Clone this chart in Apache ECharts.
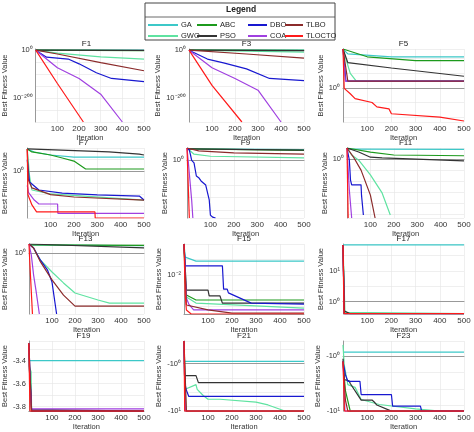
<!DOCTYPE html>
<html><head><meta charset="utf-8">
<script src="https://cdn.jsdelivr.net/npm/echarts@6/dist/echarts.min.js"></script>
<style>html,body{margin:0;padding:0;background:#fff}#c{width:474px;height:432px}</style>
</head><body><div id="c"></div>
<script>
const names = ['GA','GWO','ABC','PSO','DBO','COA','TLBO','TLOCTO'];
const colors = {GA:'#3cc8c8',GWO:'#5fe3a1',ABC:'#1c9a1c',PSO:'#333333',DBO:'#1818d0',COA:'#a040e0',TLBO:'#8b2b2b',TLOCTO:'#ff1a1a'};
const titles = ['F1','F3','F5','F7','F9','F11','F13','F15','F17','F19','F21','F23'];

// y values: exponent (log10) for log panels; log10(-f) for F21/F23; plain for F19
const F1 = {
 GA:[[0,0],[500,0]], ABC:[[0,0],[500,-2]], PSO:[[0,0],[500,-1]],
 GWO:[[0,0],[100,-12],[300,-28],[500,-37]], TLBO:[[0,0],[100,-16],[300,-52],[500,-86]],
 DBO:[[0,0],[50,-29],[150,-37],[200,-57],[280,-94],[350,-118],[500,-131]],
 COA:[[0,0],[100,-73],[200,-118],[300,-184],[400,-300]],
 TLOCTO:[[0,0],[100,-139],[220,-300]]};
const F3 = {
 GA:[[0,0],[500,0]], ABC:[[0,0],[500,-1]], PSO:[[0,0],[500,-2]],
 GWO:[[0,0],[500,-8]], TLBO:[[0,0],[250,-16],[500,-33]],
 DBO:[[0,0],[80,-37],[150,-53],[250,-78],[350,-118],[500,-127]],
 COA:[[0,0],[100,-73],[200,-118],[300,-167],[400,-300]],
 TLOCTO:[[0,0],[100,-147],[230,-300]]};
const F5 = {
 GA:[[0,8],[20,7],[200,6.4],[500,6.4]], ABC:[[0,8],[100,6.4],[300,5.6],[500,5.6]],
 PSO:[[0,8],[20,5.2],[200,4.1],[500,2.4]], GWO:[[0,8],[30,3],[55,1.4],[500,1.4]],
 TLBO:[[0,8],[20,1.4],[500,1.4]], DBO:[[0,8],[12,1.4],[500,1.4]], COA:[[0,8],[10,1.4],[500,1.4]],
 TLOCTO:[[0,8],[5,-0.1],[30,-1.2],[50,-2.2],[120,-3],[140,-3.9],[190,-4.3],[200,-5.3],[400,-6],[500,-6.8]]};
const F7 = {
 PSO:[[0,0.96],[350,0.83],[480,0.74],[500,0.7]], GA:[[0,0.96],[30,0.83],[100,0.7],[200,0.61],[500,0.61]],
 ABC:[[0,0.96],[20,0.83],[100,0.7],[150,0.57],[200,0.44],[250,0.1],[500,0.1]],
 GWO:[[0,0.96],[10,-0.2],[20,-0.8],[100,-0.97],[500,-1.23]],
 TLBO:[[0,0.96],[5,-0.37],[20,-0.71],[100,-1],[200,-1.1],[500,-1.23]],
 DBO:[[0,0.5],[10,-0.46],[50,-0.8],[150,-0.93],[300,-1.01],[480,-1.06],[500,-1.23]],
 COA:[[0,-0.6],[5,-0.9],[30,-1.23],[50,-1.4],[130,-1.4],[131,-1.8],[500,-1.8]],
 TLOCTO:[[0,0.96],[3,-1],[20,-1.44],[40,-1.74],[290,-1.74],[291,-2],[500,-2]]};
const F9 = {
 GA:[[0,2.8],[500,2.6]], ABC:[[0,2.8],[500,2.4]], PSO:[[0,2.8],[500,2.5]],
 TLBO:[[0,3],[50,2.3],[200,1.8],[500,1.5]], GWO:[[0,3],[30,1.5],[100,1],[500,0.6]],
 DBO:[[0,3],[10,2.5],[15,1.3],[20,0],[30,-0.6],[40,-3.8],[50,-4.2],[60,-5],[70,-5.5],[80,-6],[95,-9.6],[100,-13.3],[110,-13.8],[122,-14]],
 COA:[[0,3],[5,0],[20,-9.7],[25,-14]], TLOCTO:[[0,3],[10,-14]]};
const F11 = {
 GA:[[0,2.7],[500,2.6]], ABC:[[0,3],[100,1.9],[200,1.1],[500,0.9]],
 PSO:[[0,3],[50,1.9],[100,0.5],[150,0.3],[500,-0.5]],
 GWO:[[0,3],[20,1.1],[50,-0.3],[100,-4.3],[150,-9.2],[185,-15.2]],
 TLBO:[[0,3],[30,0.3],[60,-3],[100,-9.8],[120,-16]],
 DBO:[[0,3],[10,-0.3],[15,-5.7],[20,-7],[60,-7],[62,-9.8],[70,-15.2]],
 COA:[[0,3],[10,-8.4],[20,-16]], TLOCTO:[[0,3],[5,-16]]};
const F13 = {
 GA:[[0,1.8],[500,1.6]], ABC:[[0,1.8],[500,1.7]], PSO:[[0,2],[500,1.1]],
 GWO:[[0,2],[20,1.1],[50,-1.7],[100,-4.4],[150,-6.9],[200,-9.2],[300,-10.8],[350,-11.5],[500,-11.5]],
 TLBO:[[0,2],[20,1.1],[50,-2.1],[100,-6.2],[150,-9.7],[200,-12.2],[500,-12.2]],
 DBO:[[0,2],[20,1.1],[50,-1.7],[80,-3.9],[100,-6.7],[120,-14]],
 COA:[[0,2],[10,-0.5],[20,-5.1],[30,-8.5],[45,-14]], TLOCTO:[[0,2],[3,-1.7],[15,-14]]};
const F15 = {
 GA:[[0,-1],[5,-1.42],[50,-1.55],[500,-1.55]],
 DBO:[[0,-1],[5,-1.7],[160,-1.7],[165,-2.45],[180,-2.45],[185,-2.57],[280,-2.9],[500,-2.93]],
 ABC:[[0,-1],[5,-2.16],[10,-2.64],[50,-2.8],[500,-2.8]],
 PSO:[[0,-1],[10,-2.48],[100,-2.48],[105,-2.67],[150,-2.67],[160,-2.9],[500,-2.9]],
 GWO:[[0,-1],[10,-2.7],[50,-2.9],[500,-3.06]],
 COA:[[0,-1],[10,-2.74],[20,-2.93],[40,-3.12],[500,-3.12]],
 TLBO:[[0,-1],[10,-2.96],[100,-3.12],[200,-3.22],[500,-3.22]],
 TLOCTO:[[0,-1],[5,-2.64],[10,-3.12],[30,-3.25],[500,-3.25]]};
const F17 = {
 GA:[[0,1.84],[500,1.84]], GWO:[[0,1.84],[8,-0.35],[500,-0.39]], ABC:[[0,1.84],[6,-0.39],[500,-0.39]],
 PSO:[[0,1.84],[5,-0.3],[30,-0.39],[500,-0.39]], DBO:[[0,1.84],[5,-0.39],[500,-0.39]],
 COA:[[0,1.84],[5,-0.39],[500,-0.39]], TLBO:[[0,1.84],[6,-0.39],[500,-0.39]], TLOCTO:[[0,1.84],[4,-0.39],[500,-0.39]]};
const F19 = {
 GA:[[0,-3.4],[500,-3.4]], GWO:[[0,-3.25],[2,-3.45],[10,-3.5],[12,-3.84],[500,-3.84]],
 ABC:[[0,-3.25],[2,-3.45],[12,-3.84],[500,-3.84]], PSO:[[0,-3.25],[3,-3.5],[12,-3.83],[100,-3.83],[101,-3.84],[500,-3.84]],
 DBO:[[0,-3.25],[12,-3.84],[500,-3.84]], COA:[[0,-3.25],[2,-3.45],[12,-3.82],[500,-3.82]],
 TLBO:[[0,-3.25],[12,-3.84],[500,-3.84]], TLOCTO:[[0,-3.25],[5,-3.84],[500,-3.84]]};
const F21 = {
 GA:[[0,-0.05],[500,-0.05]],
 PSO:[[0,-0.48],[2,0.25],[50,0.25],[60,0.4],[500,0.4]],
 DBO:[[0,-0.48],[3,0.4],[10,0.56],[20,0.69],[500,0.69]],
 GWO:[[0,-0.48],[5,0.54],[50,0.44],[55,0.54],[80,0.67],[100,0.75],[150,0.75],[300,0.81],[350,0.87],[400,0.96],[420,1],[500,1]],
 ABC:[[0,-0.48],[8,1],[500,1]], COA:[[0,-0.48],[6,1],[500,1]], TLBO:[[0,-0.48],[10,1],[500,1]], TLOCTO:[[0,-0.48],[3,1],[500,1]]};
const F23 = {
 GA:[[0,-0.07],[500,-0.07]],
 PSO:[[0,0.05],[5,0.43],[25,0.45],[30,0.5],[75,0.8],[120,0.8],[130,0.84],[140,0.89],[200,1],[500,1]],
 DBO:[[0,0.1],[10,0.34],[20,0.46],[70,0.46],[75,0.7],[200,0.7],[205,0.91],[320,0.91],[325,1],[500,1]],
 GWO:[[0,-0.2],[5,0.16],[20,0.52],[50,0.57],[75,0.79],[150,0.88],[300,0.96],[400,1],[500,1]],
 ABC:[[0,0.1],[10,0.63],[30,1],[500,1]], TLBO:[[0,0.1],[10,0.8],[20,1],[500,1]],
 COA:[[0,0.1],[8,1],[500,1]], TLOCTO:[[0,0.1],[6,1],[500,1]]};
const panelData = [F1,F3,F5,F7,F9,F11,F13,F15,F17,F19,F21,F23];

// axis ranges and labelled ticks per panel
const yMin = [-300,-300,-7,-2,-14,-16,-14,-3.25,-0.4,-3.84,-0.48,-0.27];
const yMax = [5,5,8,1,3,3,2,-1,1.87,-3.23,1,1];
const yLabels = [[0,-200],[0,-200],[0],[0],[0,-10],[0,-10],[0,-10],[-2],[0,1],[-3.4,-3.6,-3.8],[0,1],[0,1]];
const yKind = ['log','log','log','log','log','log','log','log','log','lin','neg','neg'];

// layout
const rowTop = [49,148,244,341], rowH = [73,70,70,71];
const colLeft = [[29,189,343],[23,187,347],[27,184,343],[23,184,343]];
const colRight = [144,304,464];
const nameX = [7,170,329];

const sup = {'0':'⁰','1':'¹','2':'²','-':'⁻'};
function supStr(n){return String(n).split('').map(c=>sup[c]||c).join('');}

const grid=[],xAxis=[],yAxis=[],series=[],title=[];
panelData.forEach((P,i)=>{
  const r=Math.floor(i/3), c=i%3;
  const L=colLeft[r][c], W=colRight[c]-L;
  grid.push({left:L,top:rowTop[r],width:W,height:rowH[r]});
  title.push({text:titles[i],left:L+W/2,top:rowTop[r]-9,textAlign:'center',padding:0,
    textStyle:{fontSize:8,fontWeight:'normal',color:'#222',fontFamily:'Liberation Sans',lineHeight:8}});
  xAxis.push({gridIndex:i,type:'value',min:0,max:500,interval:100,
    name:'Iteration',nameLocation:'middle',nameGap:11,
    nameTextStyle:{fontSize:7.5,color:'#333',fontFamily:'Liberation Sans',lineHeight:8},
    axisLine:{lineStyle:{color:'#999'}},axisTick:{show:false},
    axisLabel:{fontSize:8,color:'#333',margin:3,fontFamily:'Liberation Sans',formatter:v=>v===0?'':v},
    splitLine:{show:true,lineStyle:{color:'#e4e4e4',width:0.6}}});
  const labs=yLabels[i], kind=yKind[i];
  yAxis.push({gridIndex:i,type:'value',min:yMin[i],max:yMax[i],inverse:kind==='neg',
    name:'Best Fitness Value',nameLocation:'middle',nameGap:L-nameX[c],
    nameTextStyle:{fontSize:7.5,color:'#333',fontFamily:'Liberation Sans'},
    axisLine:{show:true,lineStyle:{color:'#999'}},axisTick:{show:false},
    axisLabel:{fontSize:7.5,color:'#333',margin:3,fontFamily:'Liberation Sans',showMinLabel:true,showMaxLabel:true,
      formatter:v=>{const m=labs.find(t=>Math.abs(t-v)<1e-6); if(m===undefined) return '';
        if(kind==='lin') return m.toFixed(1); if(kind==='neg') return '-10'+supStr(m); return '10'+supStr(m);}},
    splitLine:{show:true,lineStyle:{color:'#e4e4e4',width:0.6}}});
  names.forEach(n=>{
    if(!P[n]) return;
    series.push({name:n,type:'line',xAxisIndex:i,yAxisIndex:i,data:P[n],showSymbol:false,
      clip:true,lineStyle:{width:1.2,color:colors[n]},itemStyle:{color:colors[n]},animation:false,silent:true});
  });
});

const legendCols=[['GA','GWO'],['ABC','PSO'],['DBO','COA'],['TLBO','TLOCTO']];
const legendLeft=[148,197,248,285];
const legendW=[30,20,19,18];
const legends=legendCols.map((d,k)=>({data:d,orient:'vertical',left:legendLeft[k],top:21,padding:0,
  itemWidth:legendW[k],itemHeight:2,itemGap:3,icon:'rect',
  textStyle:{fontSize:7.5,color:'#222',fontFamily:'Liberation Sans',padding:[0,0,0,-2]}}));

const chart=echarts.init(document.getElementById('c'),null,{renderer:'canvas'});
chart.setOption({
  animation:false,backgroundColor:'#fff',
  title, grid, xAxis, yAxis, series, legend:legends,
  graphic:[
    {type:'rect',shape:{x:145,y:3,width:190,height:37},style:{fill:'#fff',stroke:'#444',lineWidth:1},z:-1},
    {type:'line',shape:{x1:145,y1:17,x2:335,y2:17},style:{stroke:'#444',lineWidth:0.8}},
    {type:'text',left:240-14,top:5,style:{text:'Legend',font:'bold 8.5px Liberation Sans',fill:'#222'}}
  ]
});
</script></body></html>
